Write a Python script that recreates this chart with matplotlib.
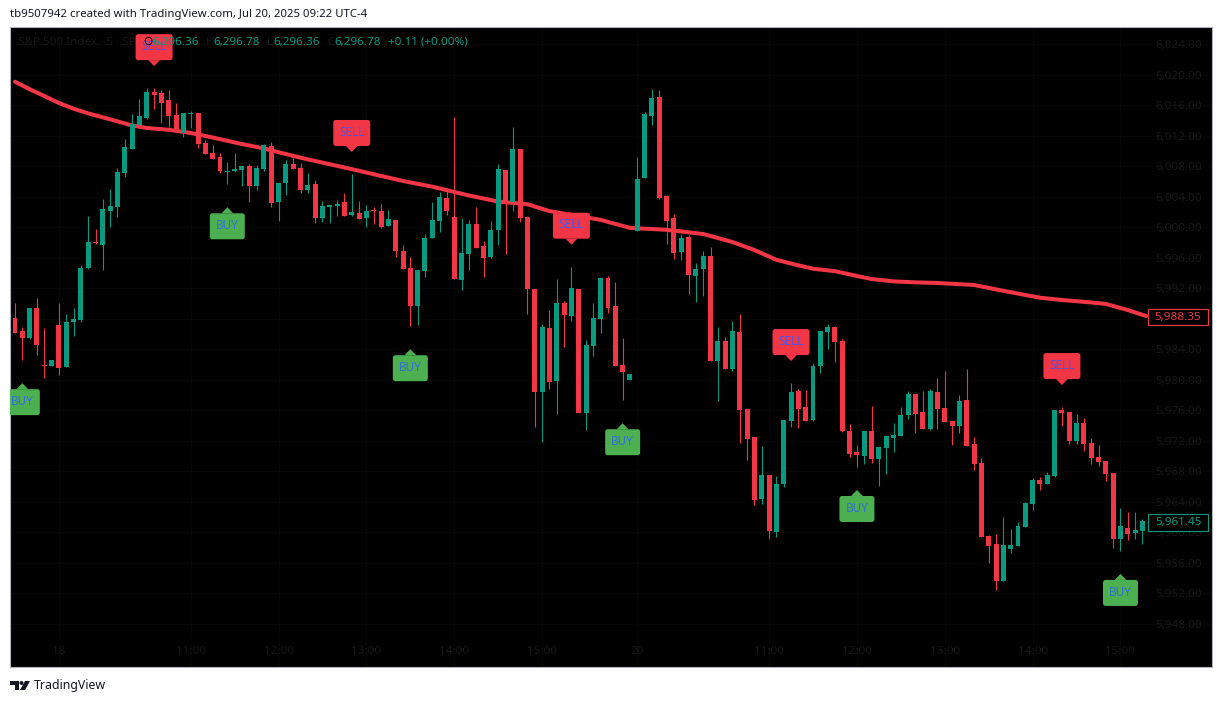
import matplotlib
matplotlib.use("Agg")
import matplotlib.pyplot as plt
from matplotlib.patches import FancyBboxPatch, Polygon, Rectangle, Ellipse

plt.rcParams['font.family'] = ['Noto Sans', 'DejaVu Sans']

opens = [5988.1,5986.4,5985.5,5989.4,5981.9,5981.8,5987.2,5981.7,5987.6,5987.8,5994.6,5998.0,5997.7,6002.1,6002.6,6007.1,6010.2,6013.4,6014.3,6017.7,
6017.6,6016.7,6014.7,6012.3,6014.8,6015.0,6011.0,6009.7,6009.2,6007.2,6007.4,6007.5,6008.0,6005.4,6007.6,6010.6,6003.3,6005.8,6008.3,6007.8,
6004.9,6005.7,6001.2,6002.6,6002.8,6003.3,6001.6,6001.9,6001.2,6002.3,6002.1,6000.2,6001.0,5996.9,5994.6,5989.7,5994.2,5998.6,6000.8,6003.8,
6001.3,5993.1,5996.5,6000.4,5997.5,5996.1,5999.6,6007.5,6003.3,6010.2,6001.3,5991.9,5978.4,5986.8,5979.8,5990.1,5988.3,5991.9,5975.6,5984.4,
5988.0,5993.3,5989.7,5981.9,5980.0,5999.5,6006.4,6014.6,6017.1,6004.1,6001.2,5996.7,5998.7,5993.6,5994.5,5996.2,5982.5,5985.1,5981.4,5986.3,
5976.2,5972.5,5964.4,5967.5,5960.0,5966.3,5974.6,5978.5,5976.4,5974.7,5981.8,5986.3,5986.9,5985.1,5973.3,5970.5,5970.0,5973.3,5969.6,5971.1,
5972.4,5972.6,5975.4,5978.1,5975.8,5973.5,5978.4,5976.3,5974.6,5974.0,5977.3,5971.6,5969.1,5959.5,5958.5,5953.6,5957.8,5958.2,5960.7,5963.7,
5966.9,5966.3,5967.4,5976.0,5975.8,5972.0,5974.3,5971.7,5969.9,5969.4,5967.8,5959.1,5960.6,5959.9,5960.2]
highs = [5990.1,5986.9,5989.4,5990.7,5986.8,5982.6,5990.1,5988.6,5989.4,5995.0,6001.5,5999.8,6003.7,6005.0,6007.7,6011.5,6014.8,6016.8,6018.2,6018.2,
6018.0,6018.0,6016.3,6015.0,6015.2,6015.0,6011.4,6010.8,6009.7,6008.5,6009.7,6008.0,6008.3,6008.1,6010.9,6011.2,6005.8,6008.8,6009.1,6008.4,
6007.1,6006.2,6003.4,6002.9,6003.6,6004.5,6007.0,6003.4,6002.9,6002.6,6003.0,6002.3,6001.0,5997.7,5996.1,5994.4,5999.1,6003.3,6004.6,6005.1,
6014.4,6001.2,6000.9,6002.6,5998.2,6000.8,6008.3,6007.5,6013.1,6010.2,6001.5,5991.9,5987.3,5989.1,5993.2,5990.3,5994.8,5991.9,5985.2,5990.1,
5993.3,5993.6,5992.8,5985.5,5980.7,6009.2,6015.1,6018.1,6018.0,6004.2,6001.7,5999.1,5999.0,5995.3,5996.9,5997.4,5986.9,5985.6,5987.7,5988.6,
5976.2,5972.5,5971.3,5967.5,5967.4,5974.7,5979.6,5978.8,5978.7,5982.2,5986.4,5987.3,5987.0,5985.3,5974.2,5971.4,5973.3,5976.6,5971.2,5972.6,
5974.3,5976.4,5978.5,5978.1,5978.5,5978.8,5980.2,5981.2,5974.6,5978.0,5981.4,5972.5,5969.7,5959.7,5959.8,5962.0,5960.4,5961.3,5964.0,5967.1,
5967.3,5967.9,5976.0,5976.4,5975.8,5975.5,5975.0,5972.4,5971.4,5969.4,5967.8,5963.2,5962.7,5962.7,5961.7]
lows = [5986.1,5982.6,5985.3,5983.2,5980.2,5981.8,5980.6,5981.7,5985.7,5987.6,5994.5,5997.8,5994.4,6000.0,6001.3,6006.6,6010.2,6013.4,6014.2,6015.5,
6013.6,6013.1,6012.5,6011.8,6013.0,6010.4,6009.6,6008.9,6007.1,6005.7,6007.2,6005.4,6003.3,6004.9,6007.4,6002.6,6000.8,6004.2,6007.6,6004.5,
6004.5,6000.5,6000.7,6000.5,6001.5,6001.5,6001.5,6001.1,6000.0,6000.4,5999.9,6000.2,5996.1,5994.5,5987.0,5987.2,5993.5,5998.6,5999.4,6001.6,
5993.2,5991.8,5994.4,5997.3,5993.5,5996.0,5997.7,5996.5,6002.1,6000.7,5988.6,5973.8,5971.8,5978.8,5975.5,5984.3,5987.7,5975.6,5973.4,5983.1,
5986.1,5988.8,5981.8,5977.3,5980.0,5999.5,6006.4,6013.4,6003.7,5997.8,5995.8,5995.7,5991.2,5990.2,5991.0,5982.5,5977.2,5981.4,5981.2,5971.7,
5969.5,5963.6,5963.7,5959.1,5959.4,5965.9,5973.8,5973.7,5974.6,5974.6,5980.9,5984.0,5982.3,5973.2,5969.9,5968.6,5969.0,5969.1,5966.1,5967.6,
5970.5,5972.6,5974.9,5973.0,5973.5,5973.4,5973.5,5974.5,5971.4,5973.0,5971.3,5968.2,5959.4,5956.0,5952.4,5953.6,5957.3,5958.2,5960.7,5962.9,
5965.5,5966.3,5967.3,5973.9,5971.6,5971.6,5970.7,5969.0,5968.7,5966.7,5958.0,5957.6,5959.0,5959.1,5958.5]
closes = [5986.1,5985.5,5989.4,5984.6,5981.8,5982.6,5981.5,5987.6,5988.0,5994.6,5998.0,5997.9,6002.4,6002.8,6007.2,6010.5,6013.5,6014.6,6017.7,6017.3,
6016.3,6014.6,6012.5,6015.0,6015.0,6010.9,6009.6,6008.9,6007.4,6007.4,6007.6,6008.0,6005.4,6007.8,6010.8,6003.2,6005.8,6008.3,6007.6,6004.9,
6005.5,6001.2,6002.8,6002.9,6003.0,6001.5,6002.0,6001.1,6002.1,6002.1,6000.0,6001.1,5996.9,5994.5,5989.7,5994.4,5998.6,6000.9,6004.0,6002.1,
5993.2,5996.6,6000.4,5997.3,5996.0,5999.6,6007.6,6003.2,6010.2,6001.2,5991.9,5978.4,5986.9,5979.7,5990.1,5988.5,5992.0,5975.6,5984.6,5988.1,
5993.3,5989.4,5981.8,5981.0,5980.7,6006.3,6014.8,6016.9,6003.8,6000.8,5996.6,5998.6,5993.7,5994.5,5996.2,5982.5,5985.1,5981.4,5986.4,5976.0,
5972.2,5964.2,5967.5,5960.2,5966.3,5974.7,5978.4,5976.2,5974.6,5981.8,5986.4,5986.9,5985.0,5973.3,5970.3,5970.1,5973.3,5969.6,5971.2,5972.6,
5972.8,5975.4,5978.1,5975.5,5973.5,5978.5,5976.2,5974.5,5974.0,5977.2,5971.3,5969.0,5959.4,5958.2,5953.6,5958.3,5958.3,5960.8,5963.8,5966.9,
5966.3,5967.5,5976.0,5975.6,5972.0,5974.3,5971.6,5969.8,5969.2,5967.7,5959.1,5960.8,5959.8,5960.3,5961.45]

ma_bars = [0,2,4,6,8,10,13,16,18,21,24,27,30,34,39,46,53,57,62,66,70,73,80,84,89,94,98,101,104,107,109,112,115,117,120,123,126,129,131,134,137,140,143,147,149,152,154.5]
ma_values = [6019.06,6018.07,6017.19,6016.27,6015.52,6014.91,6014.13,6013.32,6013.0,6012.76,6012.34,6011.75,6011.1,6010.3,6009.1,6007.6,
             6006.05,6005.3,6004.15,6003.35,6003.0,6002.1,6000.95,5999.9,5999.65,5999.1,5998.05,5997.0,5995.72,5994.99,5994.55,5994.23,5993.6,
             5993.2,5992.89,5992.76,5992.68,5992.52,5992.42,5991.84,5991.29,5990.75,5990.45,5990.13,5989.93,5989.14,5988.35]

sell_bars = [19,46,76,106,143]
sell_tips = [6021.1,6009.85,5997.7,5982.45,5979.3]
buy_bars = [1,29,54,83,115,151]
buy_tips = [5979.55,6002.6,5984.0,5974.3,5965.55,5954.55]

price_ticks = [6024,6020,6016,6012,6008,6004,6000,5996,5992,5988,5984,5980,5976,5972,5968,5964,5960,5956,5952,5948]
price_labels = ['6,024.00','6,020.00','6,016.00','6,012.00','6,008.00','6,004.00','6,000.00','5,996.00','5,992.00','',
                '5,984.00','5,980.00','5,976.00','5,972.00','5,968.00','5,964.00','5,960.00','5,956.00','5,952.00','5,948.00']
time_ticks = [6,24,36,48,60,72,85,103,115,127,139,151]
time_labels = ['18','11:00','12:00','13:00','14:00','15:00','20','11:00','12:00','13:00','14:00','15:00']

RED, GREEN, DIM = '#F23645', '#089981', '#181818'
W, H = 1223, 703
BX = 7.32   # px per bar
BY = 7.63   # px per price unit

fig = plt.figure(figsize=(W/100, H/100), dpi=100, facecolor='white')
ax = fig.add_axes([10/W, 1-667/H, 1202/W, 640/H], facecolor='black')
ax.set_xlim(-0.683, 163.5)
ax.set_ylim(5942.35, 6026.23)

ax.set_xticks(time_ticks, time_labels)
ax.set_yticks(price_ticks, price_labels)
ax.yaxis.tick_right()
ax.tick_params(axis='y', length=0, pad=-41, labelsize=8.4, labelcolor=DIM)
ax.tick_params(axis='x', length=0, pad=-15, labelsize=8.4, labelcolor=DIM)
ax.grid(True, color='#070707', lw=0.7)
ax.set_axisbelow(True)
for s in ax.spines.values():
    s.set_color('#b2b5be')
    s.set_linewidth(0.8)

ax.plot(ma_bars, ma_values, color=RED, lw=2.9, zorder=2, solid_capstyle='round', solid_joinstyle='round')

for i, (o, h, l, c) in enumerate(zip(opens, highs, lows, closes)):
    col = GREEN if c >= o else RED
    ax.vlines(i, l, h, color=col, lw=0.8, zorder=3)
    ax.bar(i, max(abs(c-o), 0.13), bottom=min(o, c), width=0.68, color=col, lw=0, zorder=3)

box_w_s, box_w_b, box_h, tip_h = 37/BX, 35/BX, 26/BY, 6/BY
for b, t in zip(sell_bars, sell_tips):
    ax.add_patch(Polygon([(b-0.8, t+tip_h), (b+0.8, t+tip_h), (b, t)], color=RED, lw=0, zorder=4))
    ax.add_patch(FancyBboxPatch((b-box_w_s/2, t+tip_h), box_w_s, box_h,
                                boxstyle='round,pad=0,rounding_size=0.35', fc=RED, ec='none', zorder=4))
    ax.text(b, t+tip_h+box_h/2+0.1, 'SELL', color='#4F55E6', fontsize=8.5, ha='center', va='center', zorder=5)
for b, t in zip(buy_bars, buy_tips):
    ax.add_patch(Polygon([(b-0.8, t-tip_h), (b+0.8, t-tip_h), (b, t)], color='#4CAF50', lw=0, zorder=4))
    ax.add_patch(FancyBboxPatch((b-box_w_b/2, t-tip_h-box_h), box_w_b, box_h,
                                boxstyle='round,pad=0,rounding_size=0.35', fc='#4CAF50', ec='none', zorder=4))
    ax.text(b, t-tip_h-box_h/2+0.1, 'BUY', color='#3370D6', fontsize=8.5, ha='center', va='center', zorder=5)

def ftext(x, y, s, **kw):
    kw.setdefault('va', 'center')
    return fig.text(x/W, 1-y/H, s, zorder=10, **kw)

def price_box(y0, y1, txt, col):
    fig.add_artist(Rectangle((1148/W, 1-y1/H), 60/W, (y1-y0)/H, transform=fig.transFigure,
                             fc='black', ec=col, lw=0.8, zorder=9))
    ftext(1178, (y0+y1)/2, txt, color=col, fontsize=8.4, ha='center')

price_box(309, 325, '5,988.35', RED)
price_box(514, 531, '5,961.45', GREEN)

ftext(10, 14, 'tb9507942 created with TradingView.com, Jul 20, 2025 09:22 UTC-4', color='#131722', fontsize=8.2)

LEG_Y = 42.5
ftext(18, LEG_Y, 'S&P 500 Index · 5 · SP', color=DIM, fontsize=8.4)
ftext(143, LEG_Y, 'O', color='black', fontsize=8.4)
ftext(206, LEG_Y, 'H', color=DIM, fontsize=8.4)
ftext(267, LEG_Y, 'L', color=DIM, fontsize=8.4)
ftext(327, LEG_Y, 'C', color=DIM, fontsize=8.4)
for x, s in [(152, '6,296.36'), (213, '6,296.78'), (273, '6,296.36'), (334, '6,296.78'), (388, '+0.11 (+0.00%)')]:
    ftext(x, LEG_Y, s, color=GREEN, fontsize=8.4)

# TradingView mark
LOGO = '#131722'
def px_poly(pts):
    fig.add_artist(Polygon([(x/W, 1-y/H) for x, y in pts], transform=fig.transFigure, fc=LOGO, ec='none'))
px_poly([(10, 681), (19, 681), (19, 690), (14.5, 690), (14.5, 685), (10, 685)])
px_poly([(25, 681), (30, 681), (25, 690), (20, 690)])
fig.add_artist(Ellipse((21.5/W, 1-683/H), 4/W, 4/H, transform=fig.transFigure, fc=LOGO, ec='none'))
ftext(34, 686, 'TradingView', color=LOGO, fontsize=8.9)

fig.savefig('out.png', dpi=100, facecolor='white')
